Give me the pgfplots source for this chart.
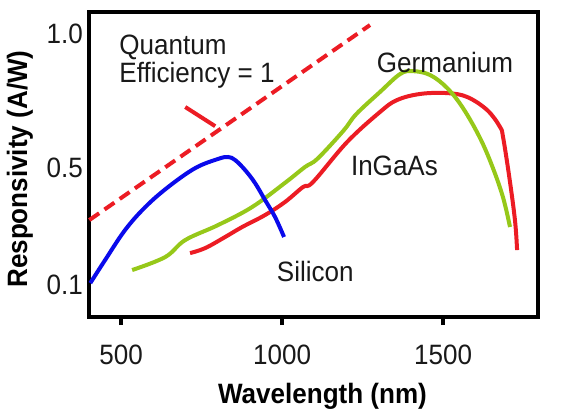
\documentclass[border=0pt]{standalone}
\usepackage{pgfplots}
\pgfplotsset{compat=1.18}
\usepackage{fontspec}
\setmainfont{Liberation Sans}[FakeStretch=0.93]
\definecolor{sired}{RGB}{236,28,36}
\definecolor{sigreen}{RGB}{150,200,25}
\definecolor{siblue}{RGB}{10,10,235}
\newcommand{\bigf}{\fontsize{28bp}{28bp}\selectfont}
\begin{document}
\begin{tikzpicture}
\path[use as bounding box] (0,0) rectangle (578bp,416bp);
\begin{axis}[
  at={(89bp,99bp)}, anchor=south west,
  scale only axis, width=449bp, height=305bp,
  xmin=400, xmax=1795, ymin=-0.015, ymax=1.083,
  axis line style={line width=4bp, black},
  xtick={500,1000,1500}, xticklabels={500,1000,1500},
  ytick={0.100,0.523,1.004}, yticklabels={0.1,0.5,1.0},
  xtick pos=bottom, ytick pos=left,
  tick align=outside,
  x tick style={line width=4bp, black},
  major tick length=8bp,
  y tick style={draw=none},
  ticklabel style={font=\bigf, text=black!90},
  xticklabel style={anchor=base, inner sep=0pt, yshift=-39bp},
  yticklabel style={anchor=east, inner sep=0pt, xshift=2bp},
  xlabel={\bfseries Wavelength (nm)},
  ylabel={\bfseries Responsivity (A/W)},
  label style={font=\bigf},
  xlabel style={at={(axis description cs:0.520,-0.282)}, anchor=base, inner sep=0pt},
  ylabel style={at={(axis description cs:-0.138,0.485)}, anchor=base, inner sep=0pt, rotate=0},
  clip=false,
]
% Quantum efficiency = 1 line
\addplot[sired, line width=4bp, dash pattern=on 12bp off 6.5bp] coordinates {(401,0.334) (1273,1.036)};
% pointer
\addplot[sired, line width=4bp] coordinates {(699,0.741) (792,0.672)};
% InGaAs
\addplot[sired, line width=4bp, smooth, tension=0.6] coordinates {
(714,0.215) (761,0.233) (823,0.273) (876,0.309) (947,0.352) (1009,0.399)
(1065,0.453) (1096,0.471) (1202,0.615) (1304,0.723) (1357,0.766) (1429,0.788)
(1513,0.791) (1575,0.777) (1637,0.730) (1677,0.669) (1687,0.629) (1708,0.471)
(1724,0.327) (1730,0.226)};
% Germanium
\addplot[sigreen, line width=4bp, smooth, tension=0.6] coordinates {
(534,0.154) (637,0.201) (699,0.262) (801,0.316) (907,0.381) (1009,0.468)
(1071,0.525) (1110,0.555) (1190,0.655) (1230,0.715) (1304,0.795) (1367,0.860)
(1407,0.870) (1460,0.856) (1513,0.809) (1562,0.737) (1615,0.629) (1655,0.521)
(1687,0.413) (1708,0.309)};
% Silicon
\addplot[siblue, line width=4bp, smooth, tension=0.6] coordinates {
(404,0.107) (450,0.190) (512,0.298) (575,0.381) (646,0.453) (730,0.521)
(801,0.554) (832,0.561) (854,0.550) (885,0.514) (916,0.467) (947,0.406)
(978,0.345) (1006,0.273)};
\node[anchor=north west, inner sep=0pt, align=left, font=\bigf, text=black!90] at (axis cs:494,1.000) {Quantum\\Efficiency = 1};
\node[inner sep=0pt, font=\bigf, text=black!90] at (axis cs:1506,0.901) {Germanium};
\node[inner sep=0pt, font=\bigf, text=black!90] at (axis cs:1349,0.528) {InGaAs};
\node[inner sep=0pt, font=\bigf, text=black!90] at (axis cs:1103,0.150) {Silicon};
\end{axis}
\end{tikzpicture}
\end{document}
